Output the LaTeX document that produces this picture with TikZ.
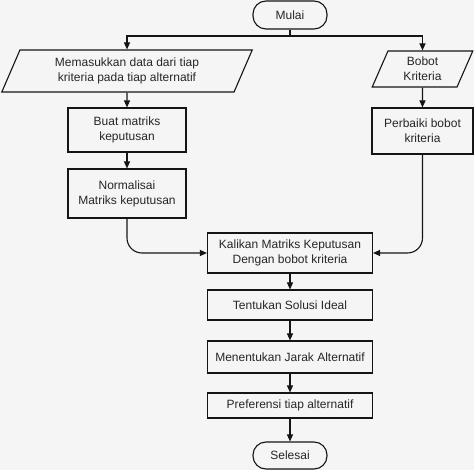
\documentclass[tikz,border=0pt]{standalone}
\usepackage{fontspec}
\setmainfont{Liberation Sans}
\usetikzlibrary{arrows.meta,shapes.geometric}
\definecolor{bgcol}{HTML}{F5F5F5}
\definecolor{linecol}{HTML}{151515}
\begin{document}
\begin{tikzpicture}[x=1pt,y=-1pt,
		font=\fontsize{12}{15}\selectfont,
		box/.style={rectangle,draw=linecol,line width=1.1pt,align=center,inner sep=0pt,text=black!85},
		terminal/.style={box,rounded corners=13pt,minimum width=74pt,minimum height=28pt},
		datain/.style={box,trapezium,trapezium stretches=true,trapezium left angle=#1,trapezium right angle=180-#1},
		arrow/.style={draw=linecol,line width=1.1pt,-{Triangle[length=7pt,width=6pt]}},
		line/.style={draw=linecol,line width=1.1pt}]
		\fill[bgcol] (0,0) rectangle (474,470);
		\useasboundingbox (0,0) rectangle (474,470);
		
		\node[terminal] (mulai) at (290,15) {Mulai};
		\node[datain=65,minimum width=251pt,minimum height=42pt] (input) at (127,71) {Memasukkan data dari tiap\\kriteria pada tiap alternatif};
		\node[datain=70,minimum width=101pt,minimum height=36pt] (bobot) at (422.5,69) {Bobot\\Kriteria};
		
		\node[box,minimum width=118pt,minimum height=44pt] (buat) at (127,130) {Buat matriks\\keputusan};
		\node[box,minimum width=118pt,minimum height=49pt] (norm) at (127,193.5) {Normalisai\\Matriks keputusan};
		\node[box,minimum width=101pt,minimum height=46pt] (perbaiki) at (422.5,131) {Perbaiki bobot\\kriteria};
		
		\node[box,minimum width=165pt,minimum height=40pt] (kalikan) at (290,253) {Kalikan Matriks Keputusan\\Dengan bobot kriteria};
		\node[box,minimum width=165pt,minimum height=30pt] (solusi) at (290,305) {Tentukan Solusi Ideal};
		\node[box,minimum width=165pt,minimum height=32pt] (jarak) at (290,357) {Menentukan Jarak Alternatif};
		\node[box,minimum width=165pt,minimum height=25pt] (pref) at (290,405.5) {Preferensi tiap alternatif};
		\node[terminal,minimum height=27pt] (selesai) at (290,455.5) {Selesai};
		
		% cabang dari mulai
		\coordinate (split) at (290,36);
		\draw[line] (mulai.south) -- (split);
		\draw[arrow] (split) -| (input.north);
		\draw[arrow] (split) -| (bobot.north);
		
		\draw[arrow] (input) -- (buat);
		\draw[arrow] (buat) -- (norm);
		\draw[arrow] (bobot) -- (perbaiki);
		
		\draw[arrow,rounded corners=15pt] (norm.south) |- (kalikan.west);
		\draw[arrow,rounded corners=15pt] (perbaiki.south) |- (kalikan.east);
		
		\draw[arrow] (kalikan) -- (solusi);
		\draw[arrow] (solusi) -- (jarak);
		\draw[arrow] (jarak) -- (pref);
		\draw[arrow] (pref) -- (selesai);
	\end{tikzpicture}
\end{document}
